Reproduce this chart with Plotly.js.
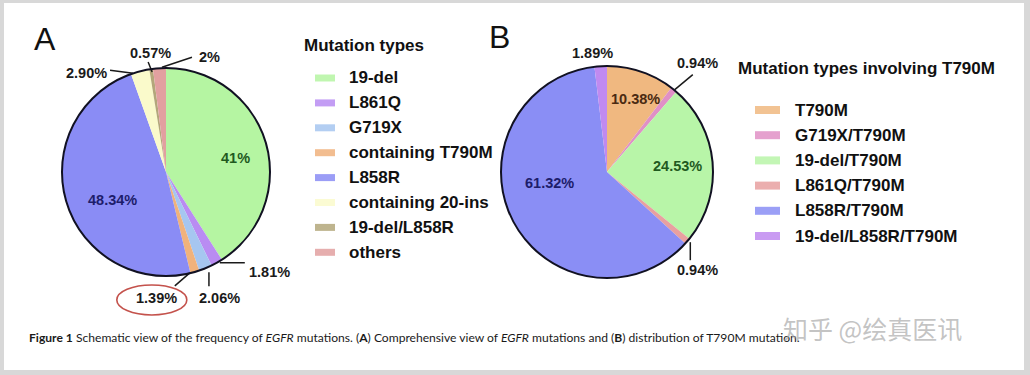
<!DOCTYPE html>
<html>
<head>
<meta charset="utf-8">
<script src="https://cdn.plot.ly/plotly-3.0.1.min.js"></script>
<style>html,body{margin:0;padding:0;background:#fff;}#chart{width:1030px;height:375px;}</style>
</head>
<body>
<div id="chart"></div>
<script>
// ---------- data ----------
const labelsA = ['19-del', 'L861Q', 'G719X', 'containing T790M', 'L858R', 'containing 20-ins', '19-del/L858R', 'others'];
const valuesA = [41, 1.81, 2.06, 1.39, 48.34, 2.90, 0.57, 2];
const textA   = ['41%', '1.81%', '2.06%', '1.39%', '48.34%', '2.90%', '0.57%', '2%'];
const colorsA = ['#b5f5a2', '#b98cf2', '#a6c6f0', '#f0b27c', '#8a8cf5', '#fafacb', '#b3a77a', '#e2a0a0'];

const labelsB = ['T790M', 'G719X/T790M', '19-del/T790M', 'L861Q/T790M', 'L858R/T790M', '19-del/L858R/T790M'];
const valuesB = [10.38, 0.94, 24.53, 0.94, 61.32, 1.89];
const textB   = ['10.38%', '0.94%', '24.53%', '0.94%', '61.32%', '1.89%'];
const colorsB = ['#f0b880', '#e090c6', '#b8f5a8', '#e8a0a0', '#8a8ef5', '#c08af0'];

const legendTitleA = 'Mutation types';
const legendTitleB = 'Mutation types involving T790M';
const caption = '<b>Figure 1</b> Schematic view of the frequency of <i>EGFR</i> mutations. (<b>A</b>) Comprehensive view of <i>EGFR</i> mutations and (<b>B</b>) distribution of T790M mutation.';
const watermark = '知乎 @绘真医讯';

// ---------- layout / style ----------
const W = 1030, H = 375;
const X = p => p / W;
const Y = p => 1 - p / H;
const pieA = {cx: 166, cy: 172, r: 104};
const pieB = {cx: 607, cy: 172, r: 106};

// label placement per slice (pixel offsets relative to slice edge point, or polar for inside labels)
const placeA = [
  {inside: true, dth: 4.7, rf: 0.68, color: '#1f5a1f'},
  {line: [3, 0, 28, 0], text: [53, 9]},
  {line: [3.5, 4, 3.5, 18], text: [14.5, 30]},
  {line: [-5, 1, -20, 14], text: [-38, 26], ring: [-5, 2, 35, 15]},
  {inside: true, dth: -11.5, rf: 0.58, color: '#1d1d6b'},
  {line: [-7, 2, -30, -1], text: [-54, 2]},
  {line: [1, 3, -3, -7], text: [-1, -16]},
  {line: [2.5, -1, 32.5, -11], text: [50.5, -11]}
];
const placeB = [
  {inside: true, dth: 3, rf: 0.74, color: '#4a2a12'},
  {line: [1, 0, 19, -15], text: [24, -27]},
  {inside: true, dth: 0, rf: 0.67, color: '#1f5a1f'},
  {line: [3, 1, 3, 19], text: [10.5, 29]},
  {inside: true, dth: 16.6, rf: 0.55, color: '#1d1d6b'},
  {text: [-8, -13]}
];

const FONT = 'Arial, "Liberation Sans", sans-serif';
const shapes = [];
const annotations = [];

// frame
shapes.push({type: 'rect', xref: 'paper', yref: 'paper', x0: X(4), x1: X(1024), y0: Y(370), y1: Y(3),
  fillcolor: '#ffffff', line: {width: 0}, layer: 'below'});

function domainOf(p) {
  return {x: [X(p.cx - p.r), X(p.cx + p.r)], y: [Y(p.cy + p.r), Y(p.cy - p.r)]};
}

function pieTrace(labels, values, colors, pie) {
  return {
    type: 'pie', labels: labels, values: values, sort: false, direction: 'clockwise', rotation: 0,
    marker: {colors: colors, line: {width: 0}}, textinfo: 'none', hoverinfo: 'label+percent',
    showlegend: false, domain: domainOf(pie)
  };
}

function addLabels(values, texts, place, pie) {
  const total = values.reduce((a, b) => a + b, 0);
  let cum = 0;
  values.forEach((v, i) => {
    const mid = (cum + v / 2) / total * 360;
    cum += v;
    const pl = place[i];
    const pt = (deg, frac) => {
      const t = deg * Math.PI / 180;
      return [pie.cx + pie.r * frac * Math.sin(t), pie.cy - pie.r * frac * Math.cos(t)];
    };
    if (pl.inside) {
      const [px, py] = pt(mid + pl.dth, pl.rf);
      annotations.push({xref: 'paper', yref: 'paper', x: X(px), y: Y(py), xanchor: 'center', yanchor: 'middle',
        text: texts[i], showarrow: false, font: {family: FONT, size: 14.5, color: pl.color, weight: 700}});
      return;
    }
    const [ex, ey] = pt(mid, 1);
    if (pl.line) {
      shapes.push({type: 'line', xref: 'paper', yref: 'paper',
        x0: X(ex + pl.line[0]), y0: Y(ey + pl.line[1]), x1: X(ex + pl.line[2]), y1: Y(ey + pl.line[3]),
        line: {color: '#1a1a1a', width: 1.5}});
    }
    const tx = ex + pl.text[0], ty = ey + pl.text[1];
    annotations.push({xref: 'paper', yref: 'paper', x: X(tx), y: Y(ty), xanchor: 'center', yanchor: 'middle',
      text: texts[i], showarrow: false, font: {family: FONT, size: 14.5, color: '#1a1a1a', weight: 700}});
    if (pl.ring) {
      const rx = tx + pl.ring[0], ry = ty + pl.ring[1];
      shapes.push({type: 'circle', xref: 'paper', yref: 'paper',
        x0: X(rx - pl.ring[2]), x1: X(rx + pl.ring[2]), y0: Y(ry + pl.ring[3]), y1: Y(ry - pl.ring[3]),
        line: {color: '#c4524c', width: 1.6}});
    }
  });
  // outer outline
  shapes.push({type: 'circle', xref: 'paper', yref: 'paper',
    x0: X(pie.cx - pie.r), x1: X(pie.cx + pie.r), y0: Y(pie.cy + pie.r), y1: Y(pie.cy - pie.r),
    line: {color: '#111122', width: 2}});
}

function addLegend(title, labels, colors, leg) {
  annotations.push({xref: 'paper', yref: 'paper', x: X(leg.titleX), y: Y(leg.titleY), xanchor: 'left', yanchor: 'middle',
    text: title, showarrow: false, font: {family: FONT, size: 17, color: '#111', weight: 700}});
  labels.forEach((lab, i) => {
    const yc = leg.row0 + i * leg.step;
    shapes.push({type: 'rect', xref: 'paper', yref: 'paper', x0: X(leg.sx0), x1: X(leg.sx1),
      y0: Y(yc + leg.sh / 2), y1: Y(yc - leg.sh / 2), fillcolor: colors[i], line: {width: 0}, opacity: 0.85});
    annotations.push({xref: 'paper', yref: 'paper', x: X(leg.tx), y: Y(yc), xanchor: 'left', yanchor: 'middle',
      text: lab, showarrow: false, font: {family: FONT, size: 17, color: '#111', weight: 700}});
  });
}

addLabels(valuesA, textA, placeA, pieA);
addLabels(valuesB, textB, placeB, pieB);
addLegend(legendTitleA, labelsA, colorsA, {titleX: 302, titleY: 45, row0: 78, step: 24.9, sx0: 315, sx1: 335, sh: 7, tx: 347});
addLegend(legendTitleB, labelsB, colorsB, {titleX: 736, titleY: 69, row0: 110, step: 25.2, sx0: 755, sx1: 780, sh: 8, tx: 793});

// panel letters
annotations.push({xref: 'paper', yref: 'paper', x: X(32), y: Y(39), xanchor: 'left', yanchor: 'middle', text: 'A',
  showarrow: false, font: {family: FONT, size: 32, color: '#111'}});
annotations.push({xref: 'paper', yref: 'paper', x: X(487), y: Y(37), xanchor: 'left', yanchor: 'middle', text: 'B',
  showarrow: false, font: {family: FONT, size: 32, color: '#111'}});

// caption and watermark
annotations.push({xref: 'paper', yref: 'paper', x: X(27), y: Y(337), xanchor: 'left', yanchor: 'middle', text: caption,
  showarrow: false, font: {family: 'Lato, "Open Sans", sans-serif', size: 12.1, color: '#1a1a1a'}});
annotations.push({xref: 'paper', yref: 'paper', x: X(781), y: Y(328), xanchor: 'left', yanchor: 'middle', text: watermark,
  showarrow: false, font: {family: '"Noto Sans CJK SC", sans-serif', size: 25, color: 'rgba(170,170,170,0.7)'}});

const data = [
  pieTrace(labelsA, valuesA, colorsA, pieA),
  pieTrace(labelsB, valuesB, colorsB, pieB)
];

const layout = {
  width: W, height: H, margin: {l: 0, r: 0, t: 0, b: 0, pad: 0},
  paper_bgcolor: '#d8d8d8', plot_bgcolor: '#ffffff', showlegend: false,
  shapes: shapes, annotations: annotations
};

Plotly.newPlot('chart', data, layout, {displayModeBar: false, staticPlot: true});
</script>
</body>
</html>
